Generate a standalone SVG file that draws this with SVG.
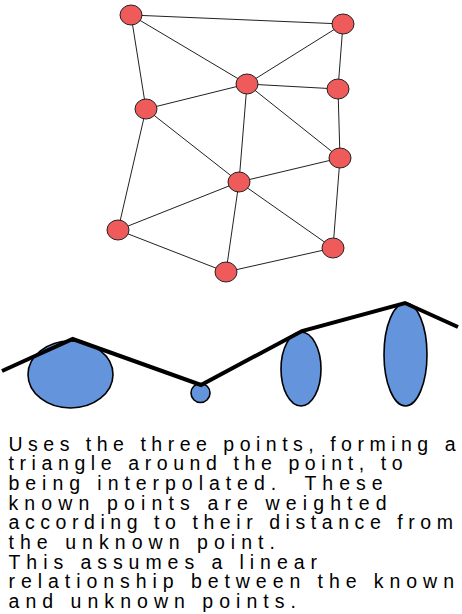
<svg xmlns="http://www.w3.org/2000/svg" width="462" height="614" viewBox="0 0 462 614">
<style>
.node{fill:#ef5a5a;stroke:#222;stroke-width:1}
.edge{stroke:#222;stroke-width:1;fill:none}
.blob{fill:#6394dc;stroke:#000;stroke-width:1.6}
.prof{fill:none;stroke:#000;stroke-width:4;stroke-linejoin:miter}
.txt{font-family:"Liberation Sans",Arial,sans-serif;font-size:19.5px;fill:#000;white-space:pre}
</style>
<rect width="462" height="614" fill="#fff"/>
<g id="connectors">
<line class="edge" x1="131" y1="15" x2="343" y2="24"/>
<line class="edge" x1="131" y1="15" x2="247" y2="84"/>
<line class="edge" x1="131" y1="15" x2="146" y2="109"/>
<line class="edge" x1="343" y1="24" x2="247" y2="84"/>
<line class="edge" x1="343" y1="24" x2="338" y2="89"/>
<line class="edge" x1="247" y1="84" x2="338" y2="89"/>
<line class="edge" x1="247" y1="84" x2="146" y2="109"/>
<line class="edge" x1="247" y1="84" x2="239" y2="182"/>
<line class="edge" x1="247" y1="84" x2="340" y2="158"/>
<line class="edge" x1="338" y1="89" x2="340" y2="158"/>
<line class="edge" x1="146" y1="109" x2="239" y2="182"/>
<line class="edge" x1="146" y1="109" x2="118" y2="230"/>
<line class="edge" x1="340" y1="158" x2="239" y2="182"/>
<line class="edge" x1="340" y1="158" x2="333" y2="248"/>
<line class="edge" x1="239" y1="182" x2="118" y2="230"/>
<line class="edge" x1="239" y1="182" x2="226" y2="272"/>
<line class="edge" x1="239" y1="182" x2="333" y2="248"/>
<line class="edge" x1="118" y1="230" x2="226" y2="272"/>
<line class="edge" x1="226" y1="272" x2="333" y2="248"/>
</g>
<g id="n1"><ellipse class="node" cx="131" cy="15" rx="11" ry="10"/></g>
<g id="n2"><ellipse class="node" cx="343" cy="24" rx="11" ry="10"/></g>
<g id="n3"><ellipse class="node" cx="247" cy="84" rx="11" ry="10"/></g>
<g id="n4"><ellipse class="node" cx="338" cy="89" rx="11" ry="10"/></g>
<g id="n5"><ellipse class="node" cx="146" cy="109" rx="11" ry="10"/></g>
<g id="n6"><ellipse class="node" cx="340" cy="158" rx="11" ry="10"/></g>
<g id="n7"><ellipse class="node" cx="239" cy="182" rx="11" ry="10"/></g>
<g id="n8"><ellipse class="node" cx="118" cy="230" rx="11" ry="10"/></g>
<g id="n9"><ellipse class="node" cx="333" cy="248" rx="11" ry="10"/></g>
<g id="n10"><ellipse class="node" cx="226" cy="272" rx="11" ry="10"/></g>
<g id="profile">
<ellipse class="blob" cx="70.5" cy="374.5" rx="42.5" ry="33.5"/>
<circle class="blob" cx="200.5" cy="393" r="9.5"/>
<ellipse class="blob" cx="301" cy="369" rx="20" ry="37"/>
<ellipse class="blob" cx="405.5" cy="354.5" rx="21.5" ry="51.5"/>
<polyline class="prof" points="2,371 72.7,339 201,385 302,331 405,303 458,327"/>
</g>
<g id="caption" class="txt">
<text x="8.5" y="450.5" textLength="447" lengthAdjust="spacing">Uses the three points, forming a</text>
<text x="8.5" y="470.2" textLength="394" lengthAdjust="spacing">triangle around the point, to</text>
<text x="8.5" y="489.9" textLength="374" lengthAdjust="spacing">being interpolated.&#160; These</text>
<text x="8.5" y="509.6" textLength="378" lengthAdjust="spacing">known points are weighted</text>
<text x="8.5" y="529.3" textLength="444.5" lengthAdjust="spacing">according to their distance from</text>
<text x="8.5" y="549" textLength="266.5" lengthAdjust="spacing">the unknown point.</text>
<text x="8.5" y="568.7" textLength="308.5" lengthAdjust="spacing">This assumes a linear</text>
<text x="8.5" y="588.4" textLength="445.5" lengthAdjust="spacing">relationship between the known</text>
<text x="8.5" y="608.1" textLength="287.5" lengthAdjust="spacing">and unknown points.</text>
</g>
</svg>
